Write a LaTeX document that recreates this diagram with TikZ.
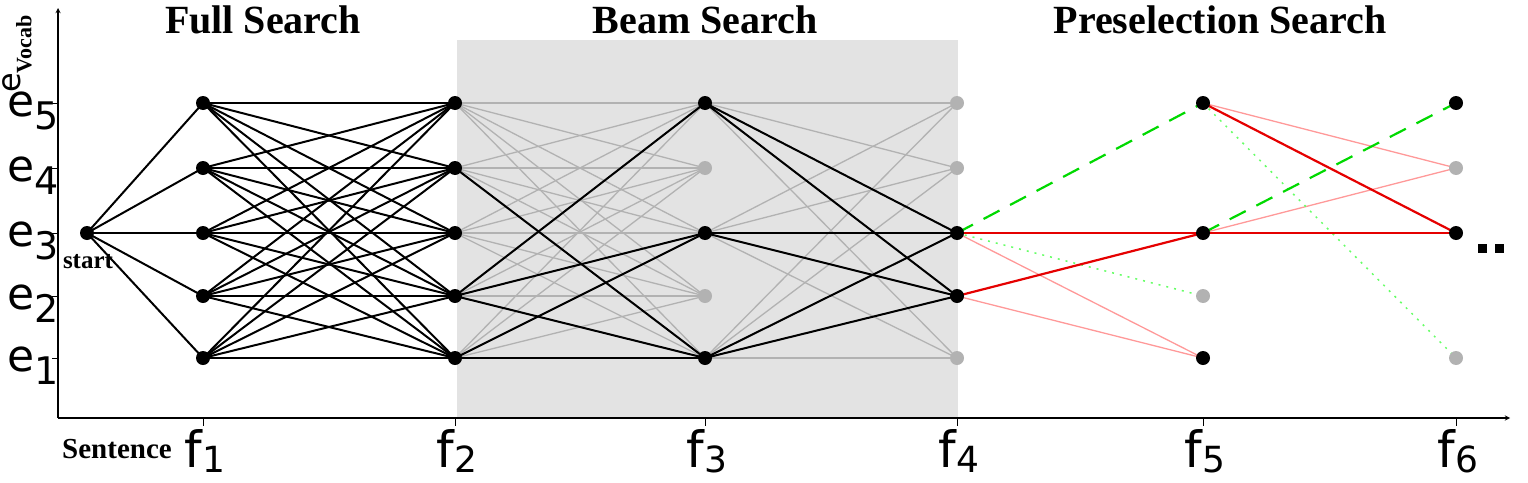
\documentclass[tikz,border=0pt]{standalone}
\usepackage{fontspec}
\setmainfont{Liberation Serif}
\newfontfamily\dv{DejaVu Sans}
\tikzset{
 bd/.style={circle,fill=black,inner sep=0pt,minimum size=14pt},
 gd/.style={circle,fill=black!30,inner sep=0pt,minimum size=14pt},
 bl/.style={black,line width=2pt},
 gl/.style={black!30,line width=1.3pt},
 rl/.style={red!90!black,line width=2.2pt},
 lr/.style={red!40,line width=1.3pt},
 gdash/.style={green!85!black,line width=2.2pt,dash pattern=on 18pt off 12pt},
 gdot/.style={green!60,line width=1.5pt,dash pattern=on 2pt off 6pt},
 ttl/.style={font=\bfseries\fontsize{40}{40}\selectfont},
 lab/.style={font=\dv\fontsize{44}{44}\selectfont},
 flab/.style={font=\dv\fontsize{50}{50}\selectfont},
}
\begin{document}
\begin{tikzpicture}[x=1pt,y=-1pt]
\useasboundingbox (0,0) rectangle (1528,482);
\fill[black!11] (457,40) rectangle (958,418);
% axes
\draw[line width=1.3pt,-stealth] (58,418) -- (58,8);
\draw[line width=1.3pt,-stealth] (58,418) -- (1510,418);
\foreach \y/\i in {103/5,168/4,233/3,296/2,358/1}{
 \draw[line width=1pt] (52,\y) -- (58,\y);
 \node[lab,anchor=east,inner sep=0pt] at (59,\y+8) {e\raisebox{-0.3em}{\fontsize{38}{38}\selectfont\i}};
}
\node[anchor=south west,inner sep=0pt] (voc) at (2,93) {\rotatebox{90}{\dv\fontsize{32}{32}\selectfont e\raisebox{-0.35em}{\rmfamily\bfseries\fontsize{22}{22}\selectfont Vocab}}};
\foreach \x/\i in {203/1,455/2,705/3,957/4,1203/5,1456/6}{
 \draw[line width=1pt] (\x,418) -- (\x,426);
 \node[flab,inner sep=0pt,anchor=base] at (\x+2,467) {f\raisebox{-0.1em}{\fontsize{36}{36}\selectfont\i}};
}
\node[font=\bfseries\fontsize{29}{29}\selectfont,anchor=base] at (117,458) {Sentence};
\node[ttl] at (263,20) {Full Search};
\node[ttl] at (705,20) {Beam Search};
\node[ttl] at (1220,20) {Preselection Search};
% coordinates
\foreach \c/\x in {1/203,2/455,3/705,4/957,5/1203,6/1456}{
 \foreach \r/\y in {5/103,4/168,3/233,2/296,1/358}{
  \coordinate (c\c r\r) at (\x,\y);
 }}
\coordinate (s) at (87,233);
% start->f1, full f1->f2
\foreach \r in {1,...,5}{\draw[bl] (s) -- (c1r\r);}
\foreach \a in {1,...,5}{\foreach \b in {1,...,5}{\draw[bl] (c1r\a) -- (c2r\b);}}
% beam gray
\foreach \a in {1,...,5}{\foreach \b in {1,...,5}{\draw[gl] (c2r\a) -- (c3r\b);}}
\foreach \a in {5,3,1}{\foreach \b in {1,...,5}{\draw[gl] (c3r\a) -- (c4r\b);}}
% beam black
\foreach \a/\b in {4/1,2/5,2/3,2/1,1/3,1/1}{\draw[bl] (c2r\a) -- (c3r\b);}
\foreach \a/\b in {5/3,5/2,3/3,3/2,1/3,1/2}{\draw[bl] (c3r\a) -- (c4r\b);}
% preselection
\draw[lr] (c4r3) -- (c5r1);
\draw[lr] (c4r2) -- (c5r1);
\draw[lr] (c5r5) -- (c6r4);
\draw[lr] (c5r3) -- (c6r4);
\draw[gdot] (c4r3) -- (c5r2);
\draw[gdot] (c5r5) -- (c6r1);
\draw[rl] (c4r3) -- (c5r3);
\draw[rl] (c4r2) -- (c5r3);
\draw[rl] (c5r3) -- (c6r3);
\draw[rl] (c5r5) -- (c6r3);
\draw[gdash] (c4r3) -- (c5r5);
\draw[gdash] (c5r3) -- (c6r5);
% dots
\node[bd] (s0) at (s) {};
\node[font=\bfseries\fontsize{25}{25}\selectfont] at (88,262) {start};
\foreach \r in {1,...,5}{\node[bd] at (c1r\r) {}; \node[bd] at (c2r\r) {};}
\foreach \r in {5,3,1}{\node[bd] at (c3r\r) {};}
\foreach \r in {4,2}{\node[gd] at (c3r\r) {};}
\foreach \r in {3,2}{\node[bd] at (c4r\r) {};}
\foreach \r in {5,4,1}{\node[gd] at (c4r\r) {};}
\foreach \r in {5,3,1}{\node[bd] at (c5r\r) {};}
\node[gd] at (c5r2) {};
\foreach \r in {5,3}{\node[bd] at (c6r\r) {};}
\foreach \r in {4,1}{\node[gd] at (c6r\r) {};}
\fill (1478,244) rectangle (1487,253);
\fill (1495,244) rectangle (1504,253);
\end{tikzpicture}
\end{document}
